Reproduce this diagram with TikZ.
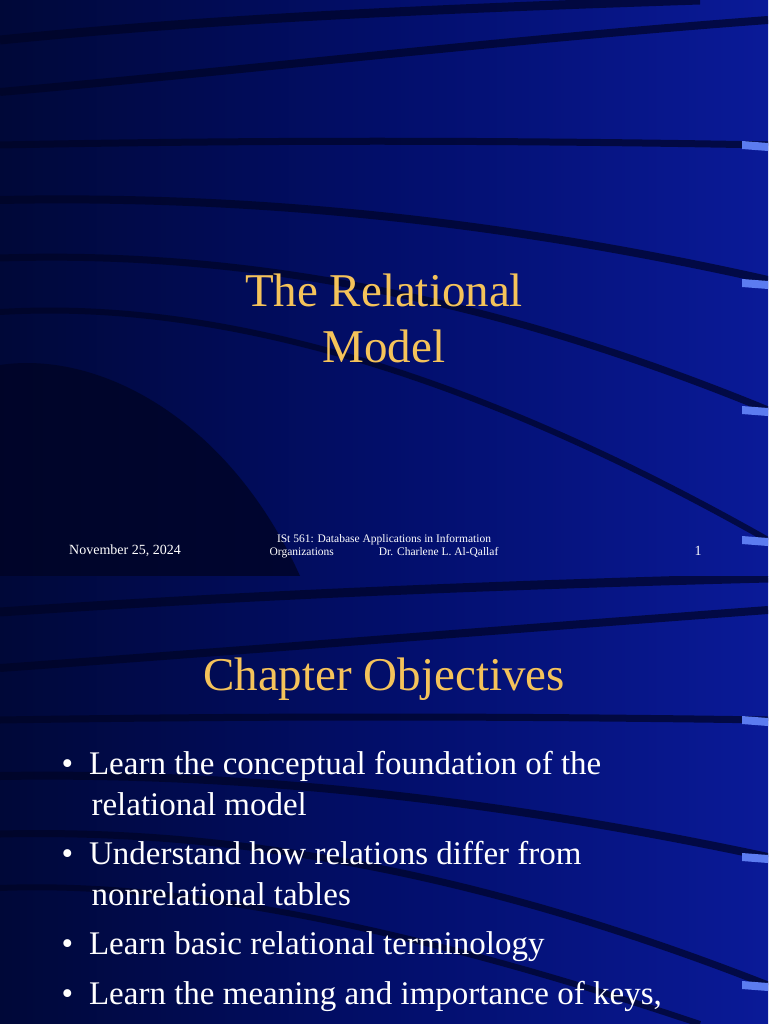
\documentclass[tikz,border=0pt]{standalone}
\usepackage{fontspec}
\setmainfont{Liberation Serif}
\definecolor{gold}{HTML}{F5C35A}
\definecolor{dk}{HTML}{000425}
\definecolor{lft}{HTML}{000838}
\definecolor{mid}{HTML}{020E6A}
\definecolor{lb}{HTML}{0A1A98}
\definecolor{tick}{HTML}{5C7CF0}
\tikzset{swoosh/.style={draw=dk,line width=#1,opacity=0.7},
 bg/.style={left color=lft, right color=lb, middle color=mid},
 tickm/.style={fill=tick},
 foot/.style={text=white,font=\fontsize{11.5}{13.5}\selectfont},
 ttl/.style={text=gold,font=\fontsize{47}{56}\selectfont,align=center},
 bul/.style={text=white,font=\fontsize{33}{41}\selectfont,anchor=north west,align=left}}
\begin{document}
\begin{tikzpicture}[x=1pt,y=-1pt]
\useasboundingbox (0,0) rectangle (768,1024);
% slide 1
\shade[bg] (0,0) rectangle (768,576);
\begin{scope}
\clip (0,0) rectangle (768,576);
\fill[dk,opacity=0.8] (0,365) .. controls (100,350) and (230,420) .. (300,576) -- (0,576) -- cycle;
\draw[swoosh=9pt] (0,40) .. controls (200,20) and (400,10) .. (700,0);
\draw[swoosh=8pt] (0,92) .. controls (250,70) and (500,40) .. (768,20);
\draw[swoosh=7pt] (0,145) .. controls (250,140) and (500,140) .. (768,145);
\draw[swoosh=8pt] (0,200) .. controls (250,195) and (500,220) .. (768,280);
\draw[swoosh=7pt] (0,258) .. controls (250,250) and (500,300) .. (768,410);
\draw[swoosh=6pt] (0,312) .. controls (200,300) and (450,360) .. (768,540);
\end{scope}
\foreach \y in {145,283,410,540} \fill[tickm] (742,\y-4) -- (768,\y-2) -- (768,\y+6) -- (742,\y+4) -- cycle;
\node[ttl] (t1) at (384,318) {The Relational\\Model};
\node[foot,font=\fontsize{14}{16}\selectfont] (d1) at (125,551) {November 25, 2024};
\node[foot,align=center] (c1) at (384,546) {ISt 561: Database Applications in Information\\Organizations\hspace{45pt}Dr. Charlene L. Al-Qallaf};
\node[foot,font=\fontsize{14}{16}\selectfont] (p1) at (698,551) {1};
% slide 2
\shade[bg] (0,576) rectangle (768,1024);
\begin{scope}
\clip (0,576) rectangle (768,1024);
\draw[swoosh=9pt] (0,612) .. controls (250,595) and (500,585) .. (768,578);
\draw[swoosh=8pt] (0,668) .. controls (250,650) and (500,630) .. (768,610);
\draw[swoosh=7pt] (0,720) .. controls (250,716) and (500,716) .. (768,720);
\draw[swoosh=8pt] (0,776) .. controls (250,772) and (500,800) .. (768,857);
\draw[swoosh=7pt] (0,834) .. controls (250,828) and (500,880) .. (768,985);
\draw[swoosh=6pt] (0,888) .. controls (200,880) and (450,940) .. (700,1024);
\end{scope}
\foreach \y in {720,857,985} \fill[tickm] (742,\y-4) -- (768,\y-2) -- (768,\y+6) -- (742,\y+4) -- cycle;
\node[ttl] (t2) at (384,679) {Chapter Objectives};
\node[bul] (b1) at (58,748) {\textbullet\hspace{16pt}Learn the conceptual foundation of the\\\hspace*{30pt}relational model};
\node[bul] (b2) at (58,838) {\textbullet\hspace{16pt}Understand how relations differ from\\\hspace*{30pt}nonrelational tables};
\node[bul] (b3) at (58,928) {\textbullet\hspace{16pt}Learn basic relational terminology};
\node[bul] (b4) at (58,978) {\textbullet\hspace{16pt}Learn the meaning and importance of keys,};
\end{tikzpicture}
\end{document}
